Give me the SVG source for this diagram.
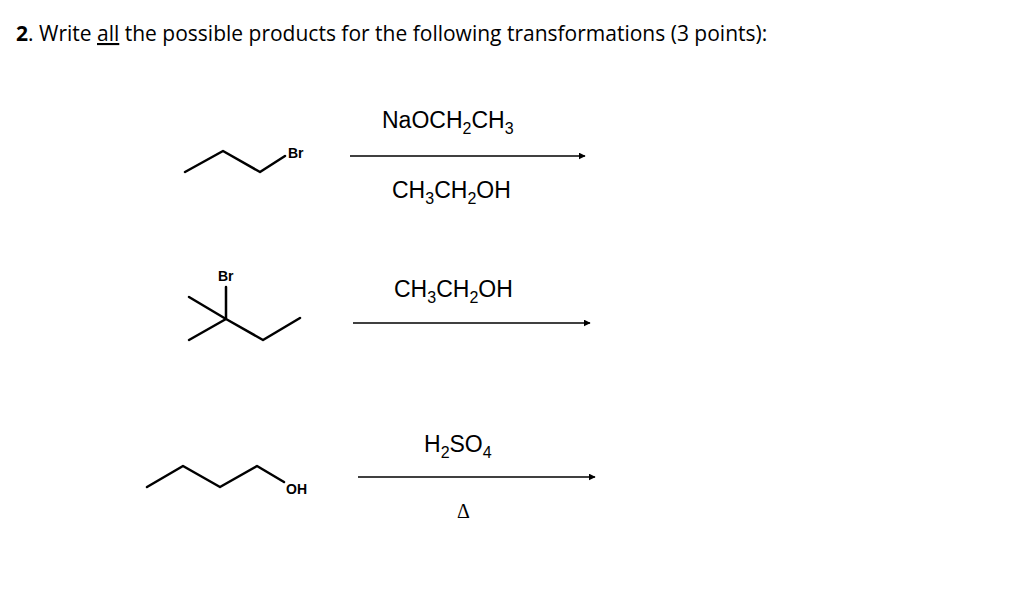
<svg xmlns="http://www.w3.org/2000/svg" width="1024" height="592" viewBox="0 0 1024 592">
<defs>
<style>
.b{stroke:#000;stroke-width:2.5;fill:none;stroke-linecap:round;stroke-linejoin:round}
.a{stroke:#000;stroke-width:1.6;fill:none}
.t{font-family:"Liberation Sans",Arial,sans-serif;fill:#000}
.l{font-weight:bold;font-size:14px}
.r{font-size:23px}
</style>
<marker id="ah" viewBox="0 0 10 10" refX="9" refY="5" markerWidth="7" markerHeight="7" markerUnits="userSpaceOnUse" orient="auto"><path d="M0,0 L10,5 L0,10 z"/></marker>
</defs>
<rect width="1024" height="592" fill="#fff"/>
<text x="16" y="41" font-family="Open Sans,sans-serif" font-size="21"><tspan font-weight="bold">2</tspan>. Write <tspan text-decoration="underline">all</tspan> the possible products for the following transformations (3 points):</text>
<g id="mol1">
<polyline class="b" points="185,172 223,151 260,172 285,156"/>
<text class="t l" x="288" y="158">Br</text>
</g>
<g id="mol2">
<polyline class="b" points="189,297 226,319 189,340"/>
<polyline class="b" points="226,287 226,319 263,340 300,318"/>
<text class="t l" x="218" y="281">Br</text>
</g>
<g id="mol3">
<polyline class="b" points="147,487 183,466 220,487 257,466 284,482"/>
<text class="t l" x="286" y="494">OH</text>
</g>
<g id="connectors">
<line class="a" x1="350" y1="156" x2="585" y2="156" marker-end="url(#ah)"/>
<line class="a" x1="353" y1="323" x2="590" y2="323" marker-end="url(#ah)"/>
<line class="a" x1="358" y1="477" x2="595" y2="477" marker-end="url(#ah)"/>
</g>
<g id="labels" class="t r">
<text x="382" y="128">NaOCH<tspan font-size="16" dy="6">2</tspan><tspan dy="-6">CH</tspan><tspan font-size="16" dy="6">3</tspan></text>
<text x="392" y="198">CH<tspan font-size="16" dy="6">3</tspan><tspan dy="-6">CH</tspan><tspan font-size="16" dy="6">2</tspan><tspan dy="-6">OH</tspan></text>
<text x="394" y="297">CH<tspan font-size="16" dy="6">3</tspan><tspan dy="-6">CH</tspan><tspan font-size="16" dy="6">2</tspan><tspan dy="-6">OH</tspan></text>
<text x="424" y="452">H<tspan font-size="16" dy="6">2</tspan><tspan dy="-6">SO</tspan><tspan font-size="16" dy="6">4</tspan></text>
<text x="457" y="518" font-family="Liberation Serif,serif" font-size="20">Δ</text>
</g>
</svg>
